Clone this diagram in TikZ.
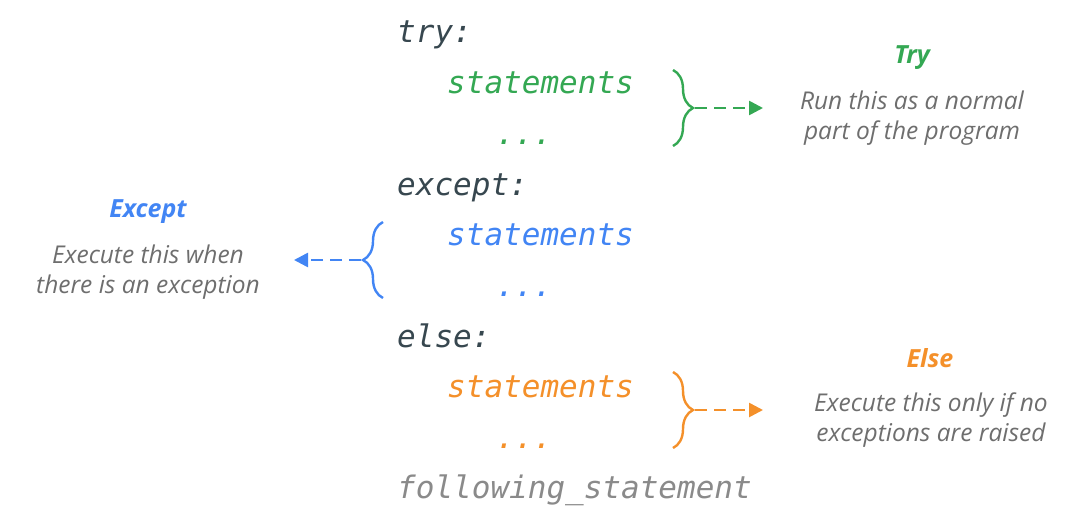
\documentclass[tikz,border=0pt]{standalone}
\usepackage{fontspec}
\usetikzlibrary{decorations.pathreplacing,arrows.meta}
\newfontfamily\codefont{DejaVu Sans Mono}
\newfontfamily\lblfont{Open Sans}
\definecolor{kw}{HTML}{37474F}
\definecolor{cgreen}{HTML}{34A853}
\definecolor{cblue}{HTML}{4285F4}
\definecolor{corange}{HTML}{F4902A}
\definecolor{cgrayfol}{HTML}{8A8A8A}
\definecolor{cgraytxt}{HTML}{6E6E6E}
\begin{document}
\begin{tikzpicture}[x=1pt,y=-1pt,
  code/.style={anchor=base west,inner sep=0pt,font=\codefont\itshape\fontsize{31}{31}\selectfont},
  ttl/.style={inner sep=0pt,font=\lblfont\bfseries\itshape\fontsize{25}{28}\selectfont},
  desc/.style={inner sep=0pt,align=center,text=cgraytxt,font=\lblfont\itshape\fontsize{24.5}{30}\selectfont},
  brc/.style={decorate,decoration={brace,amplitude=20pt},line width=2.4pt},
  darrow/.style={line width=2.6pt,dash pattern=on 12pt off 7pt,-{Triangle[length=14pt,width=14pt]}}]
\useasboundingbox (0,0) rectangle (1078,516);
\node[code,text=kw] (try) at (397,43) {try:};
\node[code,text=cgreen] (s1) at (447,94) {statements};
\node[code,text=cgreen] (d1) at (496,144) {...};
\node[code,text=kw] (exc) at (397,195) {except:};
\node[code,text=cblue] (s2) at (447,245) {statements};
\node[code,text=cblue] (d2) at (496,296) {...};
\node[code,text=kw] (els) at (397,347) {else:};
\node[code,text=corange] (s3) at (447,397) {statements};
\node[code,text=corange] (d3) at (496,448) {...};
\node[code,text=cgrayfol] (fol) at (397,498) {following\_statement};
% braces
\coordinate (b1t) at (673,70); \coordinate (b1b) at (673,146);
\coordinate (b1m) at (695,108); \coordinate (a1) at (763,108);
\draw[cgreen,brc] (b1t) -- (b1b);
\draw[cgreen,darrow] (b1m) -- (a1);
\coordinate (b2t) at (383,222); \coordinate (b2b) at (383,298);
\coordinate (b2m) at (361,260); \coordinate (a2) at (294,260);
\draw[cblue,brc] (b2b) -- (b2t);
\draw[cblue,darrow] (b2m) -- (a2);
\coordinate (b3t) at (673,372); \coordinate (b3b) at (673,448);
\coordinate (b3m) at (695,410); \coordinate (a3) at (763,410);
\draw[corange,brc] (b3t) -- (b3b);
\draw[corange,darrow] (b3m) -- (a3);
% labels
\node[ttl,text=cgreen] (tryT) at (912,58) {Try};
\node[desc] (tryD) at (912,118) {Run this as a normal\\part of the program};
\node[ttl,text=cblue] (excT) at (148,212) {Except};
\node[desc] (excD) at (148,272) {Execute this when\\there is an exception};
\node[ttl,text=corange] (elsT) at (930,358) {Else};
\node[desc] (elsD) at (931,420) {Execute this only if no\\exceptions are raised};
\end{tikzpicture}
\end{document}
